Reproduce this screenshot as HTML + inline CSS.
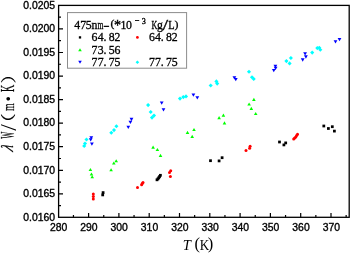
<!DOCTYPE html>
<html><head><meta charset="utf-8"><title>plot</title>
<style>html,body{margin:0;padding:0;background:#fff;width:350px;height:253px;overflow:hidden}svg{display:block}</style>
</head><body>
<svg width="350" height="253" viewBox="0 0 350 253">
<rect width="350" height="253" fill="#fff"/>
<rect x="58.6" y="5.4" width="290.6" height="211.9" fill="none" stroke="#000" stroke-width="1.3"/>
<path d="M58.6 205.62H61M58.6 193.84H63M58.6 182.06H61M58.6 170.28H63M58.6 158.5H61M58.6 146.72H63M58.6 134.94H61M58.6 123.16H63M58.6 111.38H61M58.6 99.6H63M58.6 87.82H61M58.6 76.04H63M58.6 64.26H61M58.6 52.48H63M58.6 40.7H61M58.6 28.92H63M58.6 17.14H61M88.6 217.3V212.9M118.9 217.3V212.9M149.2 217.3V212.9M179.5 217.3V212.9M209.8 217.3V212.9M240.1 217.3V212.9M270.4 217.3V212.9M300.7 217.3V212.9M331 217.3V212.9M73.45 217.3V214.9M103.75 217.3V214.9M134.05 217.3V214.9M164.35 217.3V214.9M194.65 217.3V214.9M224.95 217.3V214.9M255.25 217.3V214.9M285.55 217.3V214.9M315.85 217.3V214.9M346.15 217.3V214.9" stroke="#000" stroke-width="1.2" fill="none"/>
<g font-family="Liberation Sans, Arial, sans-serif" font-size="10.4" fill="#000" stroke="#000" stroke-width="0.35">
<text x="55.1" y="220.8" text-anchor="end">0.0160</text>
<text x="55.1" y="197.22" text-anchor="end">0.0165</text>
<text x="55.1" y="173.64" text-anchor="end">0.0170</text>
<text x="55.1" y="150.06" text-anchor="end">0.0175</text>
<text x="55.1" y="126.48" text-anchor="end">0.0180</text>
<text x="55.1" y="102.9" text-anchor="end">0.0185</text>
<text x="55.1" y="79.32" text-anchor="end">0.0190</text>
<text x="55.1" y="55.74" text-anchor="end">0.0195</text>
<text x="55.1" y="32.16" text-anchor="end">0.0200</text>
<text x="55.1" y="8.58" text-anchor="end">0.0205</text>
<text x="58.6" y="231.1" text-anchor="middle">280</text>
<text x="88.9" y="231.1" text-anchor="middle">290</text>
<text x="119.2" y="231.1" text-anchor="middle">300</text>
<text x="149.5" y="231.1" text-anchor="middle">310</text>
<text x="179.8" y="231.1" text-anchor="middle">320</text>
<text x="210.1" y="231.1" text-anchor="middle">330</text>
<text x="240.4" y="231.1" text-anchor="middle">340</text>
<text x="270.7" y="231.1" text-anchor="middle">350</text>
<text x="301" y="231.1" text-anchor="middle">360</text>
<text x="331.3" y="231.1" text-anchor="middle">370</text>
</g>
<text x="182.7" y="250.3" font-size="14.6" font-style="italic" font-family="Liberation Serif, Times New Roman, serif" fill="#000">T</text>
<text x="197.3" y="249.3" font-size="16.5" text-anchor="middle" font-family="Liberation Serif, Times New Roman, serif" fill="#000">(</text>
<text transform="translate(204.5 250.4) scale(0.9 1.02)" font-size="14.6" text-anchor="middle" font-family="Liberation Serif, Times New Roman, serif" fill="#000">K</text>
<text x="210.4" y="249.3" font-size="16.5" text-anchor="middle" font-family="Liberation Serif, Times New Roman, serif" fill="#000">)</text>
<g fill="#000">
<text transform="translate(13 149.4) rotate(-90) scale(0.75 0.9) skewX(-25)" text-anchor="middle" font-family="Liberation Serif, Times New Roman, serif" font-size="19" stroke="#000" stroke-width="0.25">λ</text>
<text transform="translate(14 135.4) rotate(-90) scale(0.385 1.0)" text-anchor="middle" font-family="Liberation Serif, Times New Roman, serif" font-size="19" stroke="#000" stroke-width="0.25">W</text>
<text transform="translate(15.5 127.35) rotate(-90) scale(1.25 1.24)" text-anchor="middle" font-family="Liberation Serif, Times New Roman, serif" font-size="19">/</text>
<text transform="translate(13.5 122.6) rotate(-90) scale(0.98 0.79)" text-anchor="middle" font-family="Noto Serif CJK SC, serif" font-size="19" stroke="#000" stroke-width="0.25">（</text>
<text transform="translate(14 107.1) rotate(-90) scale(0.525 0.92)" text-anchor="middle" font-family="Liberation Serif, Times New Roman, serif" font-size="19" stroke="#000" stroke-width="0.25">m</text>
<text x="8.1" y="104.1" text-anchor="middle" font-family="Liberation Serif, Times New Roman, serif" font-size="15.5">•</text>
<text transform="translate(14 88.5) rotate(-90) scale(0.523 1.0)" text-anchor="middle" font-family="Liberation Serif, Times New Roman, serif" font-size="19" stroke="#000" stroke-width="0.25">K</text>
<text transform="translate(13.6 74.1) rotate(-90) scale(0.98 0.815)" text-anchor="middle" font-family="Noto Serif CJK SC, serif" font-size="19" stroke="#000" stroke-width="0.25">）</text>
</g>
<rect x="67.5" y="12.6" width="119.1" height="55.6" fill="#fff" stroke="#8c8c8c" stroke-width="1"/>
<g font-family="Liberation Serif, Times New Roman, serif" fill="#000" stroke="#000" stroke-width="0.3">
<text x="77.3" y="28.8" text-anchor="middle" font-size="11.8">4</text>
<text x="83.1" y="28.8" text-anchor="middle" font-size="11.8">7</text>
<text x="88.75" y="28.8" text-anchor="middle" font-size="11.8">5</text>
<text x="94.55" y="28.8" text-anchor="middle" font-size="11.8">n</text>
<text transform="translate(100.4 28.8) scale(0.64 1.0)" text-anchor="middle" font-size="11.8">m</text>
<text transform="translate(106.4 28.8) scale(1.6 1.0)" text-anchor="middle" font-size="11.8">-</text>
<text transform="translate(112.45 27.2) scale(1.0 0.82)" text-anchor="middle" font-size="11.8">(</text>
<text transform="translate(117.5 29.7) scale(1.2 1.3)" text-anchor="middle" font-size="11.8">*</text>
<text x="123.4" y="28.8" text-anchor="middle" font-size="11.8">1</text>
<text x="129.05" y="28.8" text-anchor="middle" font-size="11.8">0</text>
<text transform="translate(154.4 28.8) scale(0.68 1.0)" text-anchor="middle" font-size="11.8">K</text>
<text x="159.9" y="28.8" text-anchor="middle" font-size="11.8">g</text>
<text transform="translate(165.35 29.5) scale(1.6 1.25)" text-anchor="middle" font-size="11.8">/</text>
<text transform="translate(171.4 28.8) scale(0.88 1.0)" text-anchor="middle" font-size="11.8">L</text>
<text transform="translate(176.45 27.7) scale(1.0 0.94)" text-anchor="middle" font-size="11.8">)</text>
<text transform="translate(137.1 23.3) scale(1.8 1.4)" text-anchor="middle" font-size="7.8">-</text>
<text transform="translate(143.9 24) scale(1.05 1.0)" text-anchor="middle" font-size="7.8">3</text>
<text x="94.55" y="41.4" text-anchor="middle" font-size="11.8">6</text>
<text x="100.6" y="41.4" text-anchor="middle" font-size="11.8">4</text>
<text x="105" y="41.4" text-anchor="middle" font-size="11.8">.</text>
<text x="111.7" y="41.4" text-anchor="middle" font-size="11.8">8</text>
<text x="117.45" y="41.4" text-anchor="middle" font-size="11.8">2</text>
<text x="94.55" y="53.75" text-anchor="middle" font-size="11.8">7</text>
<text x="100.6" y="53.75" text-anchor="middle" font-size="11.8">3</text>
<text x="105" y="53.75" text-anchor="middle" font-size="11.8">.</text>
<text x="111.7" y="53.75" text-anchor="middle" font-size="11.8">5</text>
<text x="117.45" y="53.75" text-anchor="middle" font-size="11.8">6</text>
<text x="94.55" y="66.1" text-anchor="middle" font-size="11.8">7</text>
<text x="100.6" y="66.1" text-anchor="middle" font-size="11.8">7</text>
<text x="105" y="66.1" text-anchor="middle" font-size="11.8">.</text>
<text x="111.7" y="66.1" text-anchor="middle" font-size="11.8">7</text>
<text x="117.45" y="66.1" text-anchor="middle" font-size="11.8">5</text>
<text x="151.85" y="41.4" text-anchor="middle" font-size="11.8">6</text>
<text x="157.9" y="41.4" text-anchor="middle" font-size="11.8">4</text>
<text x="162.3" y="41.4" text-anchor="middle" font-size="11.8">.</text>
<text x="169" y="41.4" text-anchor="middle" font-size="11.8">8</text>
<text x="174.75" y="41.4" text-anchor="middle" font-size="11.8">2</text>
<text x="151.85" y="66.1" text-anchor="middle" font-size="11.8">7</text>
<text x="157.9" y="66.1" text-anchor="middle" font-size="11.8">7</text>
<text x="162.3" y="66.1" text-anchor="middle" font-size="11.8">.</text>
<text x="169" y="66.1" text-anchor="middle" font-size="11.8">7</text>
<text x="174.75" y="66.1" text-anchor="middle" font-size="11.8">5</text>
</g>
<rect x="78.85" y="36.25" width="2.3" height="2.3" fill="#000"/>
<polygon points="80,48.3 81.8,51.3 78.2,51.3" fill="#0f0"/>
<polygon points="78.2,60.75 81.8,60.75 80,63.85" fill="#00f"/>
<circle cx="137.4" cy="37.4" r="1.4" fill="#f00"/>
<polygon points="137.4,60.5 139.2,62.3 137.4,64.1 135.6,62.3" fill="#0ff"/>
<rect x="101.72" y="191.22" width="2.75" height="2.75" fill="#000"/>
<rect x="101.33" y="193.53" width="2.75" height="2.75" fill="#000"/>
<rect x="155.62" y="178.43" width="2.75" height="2.75" fill="#000"/>
<rect x="156.62" y="177.43" width="2.75" height="2.75" fill="#000"/>
<rect x="157.43" y="176.32" width="2.75" height="2.75" fill="#000"/>
<rect x="158.22" y="175.12" width="2.75" height="2.75" fill="#000"/>
<rect x="159.03" y="173.93" width="2.75" height="2.75" fill="#000"/>
<rect x="209.12" y="159.32" width="2.75" height="2.75" fill="#000"/>
<rect x="217.72" y="159.53" width="2.75" height="2.75" fill="#000"/>
<rect x="220.72" y="156.32" width="2.75" height="2.75" fill="#000"/>
<rect x="278.12" y="140.62" width="2.75" height="2.75" fill="#000"/>
<rect x="282.52" y="143.53" width="2.75" height="2.75" fill="#000"/>
<rect x="284.32" y="141.53" width="2.75" height="2.75" fill="#000"/>
<rect x="322.43" y="124.62" width="2.75" height="2.75" fill="#000"/>
<rect x="327.02" y="127.12" width="2.75" height="2.75" fill="#000"/>
<rect x="330.93" y="125.33" width="2.75" height="2.75" fill="#000"/>
<rect x="333.02" y="129.72" width="2.75" height="2.75" fill="#000"/>
<circle cx="93.3" cy="193.9" r="1.5" fill="#f00"/>
<circle cx="93.3" cy="196.6" r="1.5" fill="#f00"/>
<circle cx="93.3" cy="199" r="1.5" fill="#f00"/>
<circle cx="137.5" cy="187.6" r="1.5" fill="#f00"/>
<circle cx="141.6" cy="184.8" r="1.5" fill="#f00"/>
<circle cx="142.3" cy="183.6" r="1.5" fill="#f00"/>
<circle cx="143" cy="182.5" r="1.5" fill="#f00"/>
<circle cx="170.7" cy="170.8" r="1.5" fill="#f00"/>
<circle cx="169.5" cy="172.5" r="1.5" fill="#f00"/>
<circle cx="170.4" cy="176.4" r="1.5" fill="#f00"/>
<circle cx="246" cy="150.4" r="1.5" fill="#f00"/>
<circle cx="249.6" cy="148.3" r="1.5" fill="#f00"/>
<circle cx="250.1" cy="146.3" r="1.5" fill="#f00"/>
<circle cx="293.7" cy="139" r="1.5" fill="#f00"/>
<circle cx="294.7" cy="138" r="1.5" fill="#f00"/>
<circle cx="295.8" cy="136.9" r="1.5" fill="#f00"/>
<circle cx="296.6" cy="135.6" r="1.5" fill="#f00"/>
<circle cx="297.5" cy="134.3" r="1.5" fill="#f00"/>
<polygon points="90.4,167.95 92.2,171.05 88.6,171.05" fill="#0f0"/>
<polygon points="91.5,172.45 93.3,175.55 89.7,175.55" fill="#0f0"/>
<polygon points="92.2,175.15 94,178.25 90.4,178.25" fill="#0f0"/>
<polygon points="111.1,168.25 112.9,171.35 109.3,171.35" fill="#0f0"/>
<polygon points="113.8,161.45 115.6,164.55 112,164.55" fill="#0f0"/>
<polygon points="116.2,159.15 118,162.25 114.4,162.25" fill="#0f0"/>
<polygon points="153.1,145.55 154.9,148.65 151.3,148.65" fill="#0f0"/>
<polygon points="157.4,147.95 159.2,151.05 155.6,151.05" fill="#0f0"/>
<polygon points="160.5,153.85 162.3,156.95 158.7,156.95" fill="#0f0"/>
<polygon points="187.5,130.85 189.3,133.95 185.7,133.95" fill="#0f0"/>
<polygon points="194,127.95 195.8,131.05 192.2,131.05" fill="#0f0"/>
<polygon points="192.2,134.85 194,137.95 190.4,137.95" fill="#0f0"/>
<polygon points="219.1,116.05 220.9,119.15 217.3,119.15" fill="#0f0"/>
<polygon points="223.4,113.55 225.2,116.65 221.6,116.65" fill="#0f0"/>
<polygon points="224.5,121.35 226.3,124.45 222.7,124.45" fill="#0f0"/>
<polygon points="253.9,97.85 255.7,100.95 252.1,100.95" fill="#0f0"/>
<polygon points="249.1,102.45 250.9,105.55 247.3,105.55" fill="#0f0"/>
<polygon points="251.3,106.85 253.1,109.95 249.5,109.95" fill="#0f0"/>
<polygon points="255.7,111.95 257.5,115.05 253.9,115.05" fill="#0f0"/>
<polygon points="89.4,136.25 93.2,136.25 91.3,139.55" fill="#00f"/>
<polygon points="88.8,138.25 92.6,138.25 90.7,141.55" fill="#00f"/>
<polygon points="90,142.55 93.8,142.55 91.9,145.85" fill="#00f"/>
<polygon points="129.6,117.85 133.4,117.85 131.5,121.15" fill="#00f"/>
<polygon points="128.5,120.75 132.3,120.75 130.4,124.05" fill="#00f"/>
<polygon points="126.4,125.75 130.2,125.75 128.3,129.05" fill="#00f"/>
<polygon points="159.8,101.55 163.6,101.55 161.7,104.85" fill="#00f"/>
<polygon points="161.6,108.15 165.4,108.15 163.5,111.45" fill="#00f"/>
<polygon points="191.5,93.55 195.3,93.55 193.4,96.85" fill="#00f"/>
<polygon points="195.4,96.15 199.2,96.15 197.3,99.45" fill="#00f"/>
<polygon points="232.5,76.25 236.3,76.25 234.4,79.55" fill="#00f"/>
<polygon points="233.9,77.95 237.7,77.95 235.8,81.25" fill="#00f"/>
<polygon points="273.5,64.75 277.3,64.75 275.4,68.05" fill="#00f"/>
<polygon points="273.7,66.75 277.5,66.75 275.6,70.05" fill="#00f"/>
<polygon points="271.9,69.05 275.7,69.05 273.8,72.35" fill="#00f"/>
<polygon points="303.2,52.15 307,52.15 305.1,55.45" fill="#00f"/>
<polygon points="304,55.35 307.8,55.35 305.9,58.65" fill="#00f"/>
<polygon points="300.8,58.35 304.6,58.35 302.7,61.65" fill="#00f"/>
<polygon points="333.6,40.25 337.4,40.25 335.5,43.55" fill="#00f"/>
<polygon points="337.6,38.05 341.4,38.05 339.5,41.35" fill="#00f"/>
<polygon points="86.5,137.45 88.55,139.5 86.5,141.55 84.45,139.5" fill="#0ff"/>
<polygon points="85,141.45 87.05,143.5 85,145.55 82.95,143.5" fill="#0ff"/>
<polygon points="84.2,143.95 86.25,146 84.2,148.05 82.15,146" fill="#0ff"/>
<polygon points="116.4,124.25 118.45,126.3 116.4,128.35 114.35,126.3" fill="#0ff"/>
<polygon points="114,128.05 116.05,130.1 114,132.15 111.95,130.1" fill="#0ff"/>
<polygon points="111.3,130.75 113.35,132.8 111.3,134.85 109.25,132.8" fill="#0ff"/>
<polygon points="148.1,103.05 150.15,105.1 148.1,107.15 146.05,105.1" fill="#0ff"/>
<polygon points="150.7,109.95 152.75,112 150.7,114.05 148.65,112" fill="#0ff"/>
<polygon points="154,113.55 156.05,115.6 154,117.65 151.95,115.6" fill="#0ff"/>
<polygon points="152,115.55 154.05,117.6 152,119.65 149.95,117.6" fill="#0ff"/>
<polygon points="180,96.55 182.05,98.6 180,100.65 177.95,98.6" fill="#0ff"/>
<polygon points="183.3,95.05 185.35,97.1 183.3,99.15 181.25,97.1" fill="#0ff"/>
<polygon points="186,94.35 188.05,96.4 186,98.45 183.95,96.4" fill="#0ff"/>
<polygon points="210.7,83.45 212.75,85.5 210.7,87.55 208.65,85.5" fill="#0ff"/>
<polygon points="216.4,79.35 218.45,81.4 216.4,83.45 214.35,81.4" fill="#0ff"/>
<polygon points="217.2,81.55 219.25,83.6 217.2,85.65 215.15,83.6" fill="#0ff"/>
<polygon points="249,69.75 251.05,71.8 249,73.85 246.95,71.8" fill="#0ff"/>
<polygon points="252,75.25 254.05,77.3 252,79.35 249.95,77.3" fill="#0ff"/>
<polygon points="253.7,76.85 255.75,78.9 253.7,80.95 251.65,78.9" fill="#0ff"/>
<polygon points="290.9,55.95 292.95,58 290.9,60.05 288.85,58" fill="#0ff"/>
<polygon points="286.4,59.05 288.45,61.1 286.4,63.15 284.35,61.1" fill="#0ff"/>
<polygon points="289.6,61.35 291.65,63.4 289.6,65.45 287.55,63.4" fill="#0ff"/>
<polygon points="312.2,50.55 314.25,52.6 312.2,54.65 310.15,52.6" fill="#0ff"/>
<polygon points="317.3,46.05 319.35,48.1 317.3,50.15 315.25,48.1" fill="#0ff"/>
<polygon points="319.3,45.75 321.35,47.8 319.3,49.85 317.25,47.8" fill="#0ff"/>
<polygon points="320.3,47.75 322.35,49.8 320.3,51.85 318.25,49.8" fill="#0ff"/>
</svg>
</body></html>
